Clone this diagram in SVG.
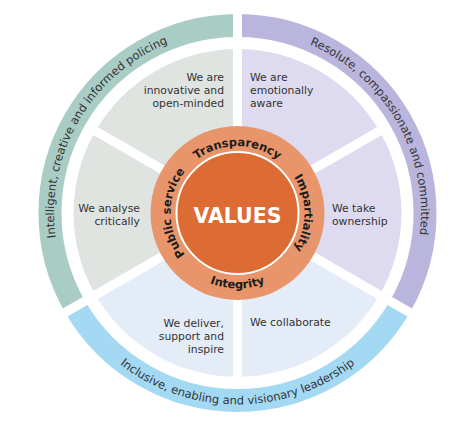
<svg xmlns="http://www.w3.org/2000/svg" width="474" height="421" viewBox="0 0 474 421">
<style>
.ring{fill:none;stroke-width:23}
.gap{stroke:#fff;stroke-width:9}
.rt{font-family:"DejaVu Sans",sans-serif;font-size:11.5px;fill:#333}
.body{font-family:"DejaVu Sans",sans-serif;font-size:10.8px;fill:#333}
.ot{font-family:"DejaVu Sans",sans-serif;font-size:11.5px;font-weight:bold;fill:#1c1c1c}
</style>
<defs>
<path id="pTeal" d="M78.6 304.75 A183.5 183.5 0 0 1 237.5 29.5"/>
<path id="pPurple" d="M237.5 29.5 A183.5 183.5 0 0 1 396.4 304.75"/>
<path id="pBlue" d="M71.7 308.75 A191.5 191.5 0 0 0 403.3 308.75"/>
<path id="pTop" d="M170.5 213 A67 67 0 0 1 304.5 213"/>
<path id="pRight" d="M237.5 146 A67 67 0 0 1 237.5 280"/>
<path id="pLeft" d="M237.5 280 A67 67 0 0 1 237.5 146"/>
<path id="pBottom" d="M162 213 A75.5 75.5 0 0 0 313 213"/>
</defs>
<rect width="474" height="421" fill="#fff"/>
<g id="sectors">
<path d="M237.5 213 L237.5 49 A164 164 0 0 0 95.5 295 Z" fill="#dfe4e1"/>
<path d="M237.5 213 L237.5 49 A164 164 0 0 1 379.5 295 Z" fill="#dedbf0"/>
<path d="M237.5 213 L95.5 295 A164 164 0 0 0 379.5 295 Z" fill="#e4ecf8"/>
</g>
<g id="outer-ring">
<path class="ring" stroke="#a9ccc5" d="M75.1 306.75 A187.5 187.5 0 0 1 237.5 25.5"/>
<path class="ring" stroke="#bab5dd" d="M237.5 25.5 A187.5 187.5 0 0 1 399.9 306.75"/>
<path class="ring" stroke="#a4d9f3" d="M399.9 306.75 A187.5 187.5 0 0 1 75.1 306.75"/>
</g>
<g id="connectors">
<line class="gap" x1="237.5" y1="213" x2="237.5" y2="5"/>
<line class="gap" x1="237.5" y1="213" x2="55.6" y2="318"/>
<line class="gap" x1="237.5" y1="213" x2="419.4" y2="318"/>
<line class="gap" x1="237.5" y1="213" x2="384.7" y2="128"/>
<line class="gap" x1="237.5" y1="213" x2="90.3" y2="128"/>
<line class="gap" x1="237.5" y1="213" x2="237.5" y2="383"/>
</g>
<g id="ring-teal"><text class="rt"><textPath href="#pTeal" startOffset="50%" text-anchor="middle">Intelligent, creative and informed policing</textPath></text></g>
<g id="ring-purple"><text class="rt"><textPath href="#pPurple" startOffset="50%" text-anchor="middle">Resolute, compassionate and committed</textPath></text></g>
<g id="ring-blue"><text class="rt"><textPath href="#pBlue" startOffset="50%" text-anchor="middle">Inclusive, enabling and visionary leadership</textPath></text></g>
<g id="s-innovative"><text class="body" text-anchor="end"><tspan x="224" y="81">We are</tspan><tspan x="224" y="94">innovative and</tspan><tspan x="224" y="107">open-minded</tspan></text></g>
<g id="s-emotional"><text class="body"><tspan x="250" y="81">We are</tspan><tspan x="250" y="94">emotionally</tspan><tspan x="250" y="107">aware</tspan></text></g>
<g id="s-analyse"><text class="body" text-anchor="end"><tspan x="140" y="212">We analyse</tspan><tspan x="140" y="225">critically</tspan></text></g>
<g id="s-ownership"><text class="body"><tspan x="332" y="212">We take</tspan><tspan x="332" y="225">ownership</tspan></text></g>
<g id="s-deliver"><text class="body" text-anchor="end"><tspan x="224" y="327">We deliver,</tspan><tspan x="224" y="340">support and</tspan><tspan x="224" y="353">inspire</tspan></text></g>
<g id="s-collaborate"><text class="body"><tspan x="250" y="326">We collaborate</tspan></text></g>
<g id="values">
<circle cx="237.5" cy="213" r="87" fill="#e9956b"/>
<circle cx="237.5" cy="213" r="61" fill="#dd6b34" stroke="#fff" stroke-width="2"/>
<text x="237.5" y="222.5" text-anchor="middle" font-family="DejaVu Sans, sans-serif" font-weight="bold" font-size="20.5" fill="#fff">VALUES</text>
<text class="ot"><textPath href="#pTop" startOffset="50%" text-anchor="middle">Transparency</textPath></text>
<text class="ot"><textPath href="#pRight" startOffset="50%" text-anchor="middle">Impartiality</textPath></text>
<text class="ot"><textPath href="#pLeft" startOffset="50%" text-anchor="middle">Public service</textPath></text>
<text class="ot"><textPath href="#pBottom" startOffset="50%" text-anchor="middle">Integrity</textPath></text>
</g>
</svg>
